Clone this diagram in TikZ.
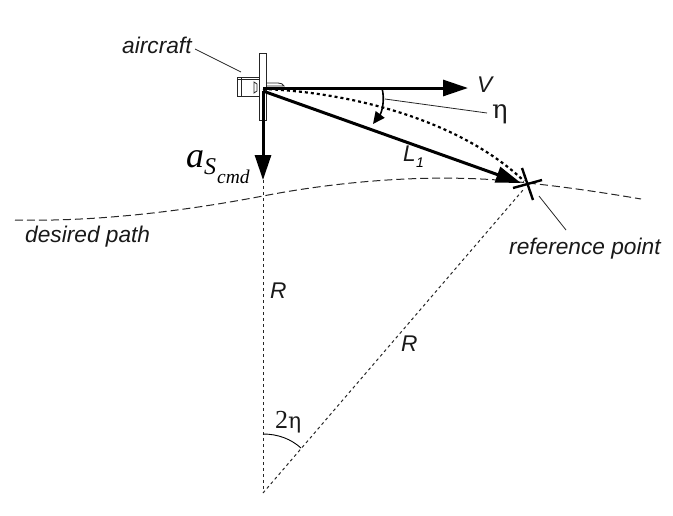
\documentclass[tikz,border=0pt]{standalone}
\usepackage{fontspec}
\setmainfont{Liberation Sans}
\newfontfamily\serifit[Scale=1]{Liberation Serif}
\newfontfamily\dejav{DejaVu Serif}
\usetikzlibrary{arrows.meta}
\begin{document}
\begin{tikzpicture}[x=1pt,y=-1pt,
  lbl/.style={font=\fontsize{22.7}{24}\selectfont\itshape,inner sep=0pt,text=black!90},
  greek/.style={font=\serifit\fontsize{26}{28}\selectfont,inner sep=0pt,text=black!90},
  thin leader/.style={draw=black!85,line width=0.8pt},
  pathline/.style={draw=black!85,line width=1pt,dash pattern=on 8pt off 4pt},
  radius line/.style={draw=black!85,line width=1pt,dash pattern=on 3pt off 3pt},
  heavy/.style={draw=black,line width=3pt},
  big tip/.style={-{Triangle[length=25pt,width=16pt]}},
  craft/.style={draw=black!85,line width=0.8pt,fill=white}]
\useasboundingbox (0,0) rectangle (673,515);
\coordinate (ac) at (263,88);
\coordinate (ref) at (528,183);
\coordinate (vtip) at (468,88);
\coordinate (ltip) at (521,183);
\coordinate (atip) at (263,180);
\coordinate (centre) at (263,493);
\coordinate (p0) at (15,220);
\coordinate (p1) at (641,199);
% path
\draw[pathline] (p0) .. controls (100,222) and (190,210) .. (263,196)
   .. controls (340,181) and (440,172) .. (ref)
   .. controls (565,187) and (600,192) .. (p1);
% radii
\draw[radius line] (atip) -- (centre);
\draw[radius line] (centre) -- (523,190);
% 2 eta arc
\coordinate (ar1) at (263,434);
\coordinate (ar2) at (301,448);
\draw[black,line width=0.9pt] (ar1) .. controls (278,434) and (291,439) .. (ar2);
% aircraft
\draw[craft] (237,77) rectangle (259,96);
\draw[craft] (241,77) -- (241,96);
\draw[craft] (237,79) -- (259,79);
\draw[craft] (254,82) -- (257,84) -- (257,91) -- (254,93) -- cycle;
\draw[craft] (266,83) -- (278,83) .. controls (281,83) and (283,84) .. (284,86) -- (266,86);
\draw[craft] (259,53) rectangle (266,120);
% arrows
\draw[heavy,big tip] (ac) -- (vtip);
\draw[heavy,big tip] (263,91) -- (ltip);
\draw[heavy,big tip] (263,91) -- (atip);
\draw[black,line width=2.2pt,dash pattern=on 3pt off 3pt] (263,89) .. controls (350,92) and (460,120) .. (524,181);
% eta arc
\draw[black,line width=1.6pt,-{Triangle[length=12pt,width=11pt]}] (382,88) .. controls (385,100) and (382,112) .. (373,124);
% cross
\coordinate (c1) at (522,168); \coordinate (c2) at (533,200);
\coordinate (c3) at (513,188); \coordinate (c4) at (542,180);
\draw[black,line width=2.4pt] (c1) -- (c2);
\draw[black,line width=2.4pt] (c3) -- (c4);
% leaders
\node[lbl,anchor=base west] (aircraft) at (122,53) {aircraft};
\coordinate (l1) at (195,49); \coordinate (l2) at (241,72);
\draw[thin leader] (l1) -- (l2);
\node[greek,anchor=base west] (eta) at (492,118) {\dejav η};
\coordinate (e1) at (385,99); \coordinate (e2) at (487,113);
\draw[thin leader] (e1) -- (e2);
\node[lbl,anchor=base west] (refl) at (509,254) {reference point};
\coordinate (r1) at (539,196); \coordinate (r2) at (566,230);
\draw[thin leader] (r1) -- (r2);
% labels
\node[lbl,anchor=base west] (v) at (477,92) {V};
\node[lbl,anchor=base west] (l) at (403,161) {L};
\node[font=\fontsize{14}{15}\selectfont\itshape,inner sep=0pt,anchor=base west] (lsub) at (416,167) {1};
\node[lbl,anchor=base west] (dp) at (25,242) {desired path};
\node[lbl,anchor=base west] (r) at (270,298) {R};
\node[lbl,anchor=base west] (r2l) at (401,351) {R};
\node[font=\serifit\itshape\fontsize{36}{38}\selectfont,inner sep=0pt,anchor=base west] (a) at (186,167) {a};
\node[font=\serifit\itshape\fontsize{24}{26}\selectfont,inner sep=0pt,anchor=base west] (s) at (204,174) {S};
\node[font=\serifit\itshape\fontsize{19.5}{21}\selectfont,inner sep=0pt,anchor=base west] (cmd) at (217,183) {cmd};
\node[greek,anchor=base west] (two) at (275,428) {2\dejav\fontsize{22}{24}\selectfont η};
\end{tikzpicture}
\end{document}
